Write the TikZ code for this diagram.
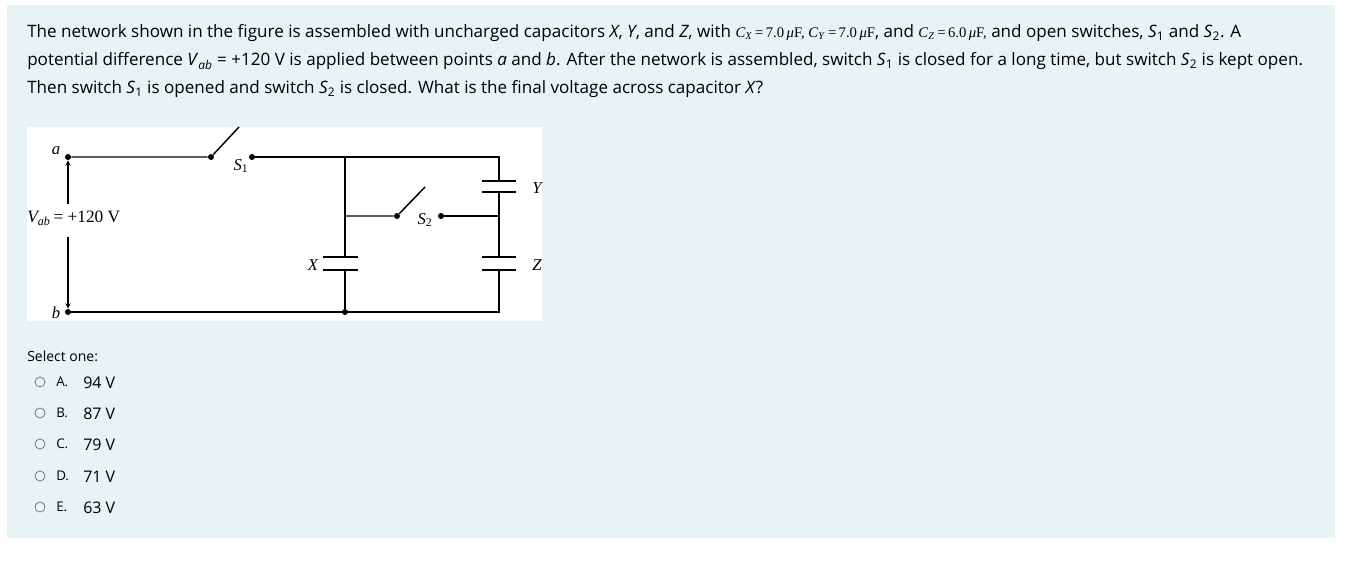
\documentclass[tikz,border=0pt]{standalone}
\usepackage{fontspec}
\setmainfont{Open Sans}
\newfontfamily\serif{Liberation Serif}
\begin{document}
\begin{tikzpicture}[x=0.75pt,y=-0.75pt,
  txt/.style={anchor=west,inner sep=0pt,font=\fontsize{12.8}{15}\selectfont},
  lab/.style={inner sep=0pt,font=\serif\itshape\fontsize{12.5}{14}\selectfont},
  wire/.style={line width=1.1pt},
  dot/.style={circle,fill,inner sep=0pt,minimum size=4.5pt},
  opt/.style={circle,draw=black!60,inner sep=0pt,minimum size=7.5pt,line width=0.5pt}]
\useasboundingbox (0,0) rectangle (1354,568);
\fill[fill={rgb,255:red,231;green,243;blue,245}] (7,5) rectangle (1335,538);
\node[txt] (l1) at (27,33) {The network shown in the figure is assembled with uncharged capacitors \textit{X}, \textit{Y}, and \textit{Z}, with {\serif\fontsize{11}{12}\selectfont\textit{C}\textsubscript{\textit{X}}\,=\,7.0\,\textit{μ}F,\ \textit{C}\textsubscript{\textit{Y}}\,=\,7.0\,\textit{μ}F}, and {\serif\fontsize{11}{12}\selectfont\textit{C}\textsubscript{\textit{Z}}\,=\,6.0\,\textit{μ}F,} and open switches, \textit{S}\textsubscript{1} and \textit{S}\textsubscript{2}. A};
\node[txt] (l2) at (27,61) {potential difference \textit{V}\textsubscript{\textit{ab}} = +120 V is applied between points \textit{a} and \textit{b}. After the network is assembled, switch \textit{S}\textsubscript{1} is closed for a long time, but switch \textit{S}\textsubscript{2} is kept open.};
\node[txt] (l3) at (27,89) {Then switch \textit{S}\textsubscript{1} is opened and switch \textit{S}\textsubscript{2} is closed. What is the final voltage across capacitor \textit{X}?};
\fill[white] (27,127) rectangle (542,321);
% nodes
\node[dot] (a) at (68,157) {};
\node[dot] (b) at (68,312) {};
\node[dot] (s1l) at (211,157) {};
\node[dot] (s1r) at (252,157) {};
\node[dot] (s2l) at (397,216) {};
\node[dot] (s2r) at (441,216) {};
\node[dot] (j) at (345,312) {};
\coordinate (tx) at (345,157);
\coordinate (tr) at (499,157);
\coordinate (mx) at (345,216);
\coordinate (mr) at (499,216);
\coordinate (br) at (499,312);
\coordinate (s1t) at (239,127);
\coordinate (s2t) at (425,187);
\draw[wire] (a) -- (s1l) -- (s1t);
\draw[wire] (s1r) -- (tr) -- (499,181);
\draw[wire] (499,192) -- (499,257);
\draw[wire] (499,270) -- (br) -- (b);
\draw[wire] (tx) -- (345,257);
\draw[wire] (345,270) -- (j);
\draw[wire] (mx) -- (s2l) -- (s2t);
\draw[wire] (s2r) -- (mr);
\draw[wire] (482,181) -- (516,181) (482,192) -- (516,192);
\draw[wire] (482,257) -- (516,257) (482,270) -- (516,270);
\draw[wire] (323,257) -- (358,257) (323,270) -- (358,270);
\node[lab] (la) at (56,151) {a};
\node[lab] (lb) at (56,313) {b};
\node[lab] (ls1) at (241,166) {S\textsubscript{\upshape 1}};
\node[lab] (ls2) at (425,220) {S\textsubscript{\upshape 2}};
\node[lab] (ly) at (537,188) {Y};
\node[lab] (lz) at (537,265) {Z};
\node[lab] (lx) at (313,265) {X};
\node[inner sep=0pt,anchor=west,font=\serif\fontsize{13}{14}\selectfont] (vab) at (27,218) {\textit{V\textsubscript{ab}}\,= +120 V};
\draw[->,>=stealth,line width=0.8pt] (68,204) -- (a.south);
\draw[->,>=stealth,line width=0.8pt] (68,237) -- (b.north);
\node[txt,font=\fontsize{10.5}{12}\selectfont] (sel) at (27,356) {Select one:};
\foreach \y/\l/\v in {382/A/94,413/B/87,444/C/79,476/D/71,507/E/63}{
  \node[opt] (o\l) at (40,\y) {};
  \node[txt,font=\fontsize{10}{12}\selectfont] (t\l) at (56,\y) {\l.};
  \node[txt,font=\fontsize{12}{14}\selectfont] (v\l) at (83,\y+1) {\v\ V};
}
\end{tikzpicture}
\end{document}
